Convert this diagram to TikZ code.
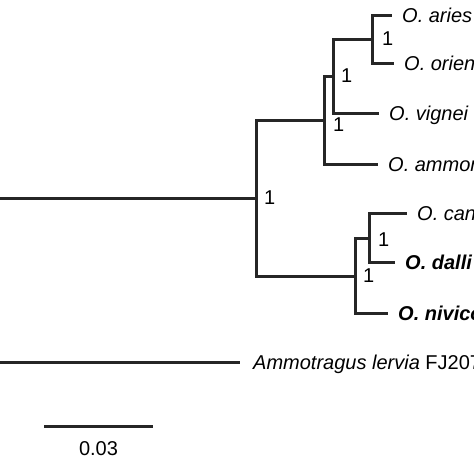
\documentclass[tikz,border=0pt]{standalone}
\usepackage{fontspec}
\setmainfont{Liberation Sans}
\usetikzlibrary{calc}
\tikzset{%
  branch/.style={line width=3pt,line join=miter,draw=black!85},
  taxon/.style={anchor=base west,inner sep=0pt,xshift=10pt,yshift=-7pt,
    font=\fontsize{20}{24}\selectfont\itshape},
  support/.style={anchor=west,inner sep=0pt,xshift=8pt,
    font=\fontsize{20}{24}\selectfont}
}
\begin{document}
\begin{tikzpicture}[x=1pt,y=-1pt]
    \useasboundingbox (0,0) rectangle (474,474);
    \clip (0,0) rectangle (474,474);
    % internal nodes
    \coordinate (top0) at (0,198);
    \coordinate (out0) at (0,362);
    \coordinate (ovis) at (256,198);
    \coordinate (upper) at (324,120);
    \coordinate (avo) at (333,76);
    \coordinate (ao) at (372,39);
    \coordinate (lower) at (355,276);
    \coordinate (cd) at (369,238);
    % tips
    \coordinate (aries) at (392,15);
    \coordinate (orientalis) at (394,63);
    \coordinate (vignei) at (379,113);
    \coordinate (ammon) at (378,164);
    \coordinate (canadensis) at (407,213);
    \coordinate (dalli) at (395,262);
    \coordinate (nivicola) at (388,313);
    \coordinate (ammotragus) at (240,362);
    %
    \draw[branch] (top0) -- (ovis);
    \draw[branch] (ovis) |- (upper);
    \draw[branch] (ovis) |- (lower);
    \draw[branch] (upper) |- (avo);
    \draw[branch] (upper) |- (ammon);
    \draw[branch] (avo) |- (ao);
    \draw[branch] (avo) |- (vignei);
    \draw[branch] (ao) |- (aries);
    \draw[branch] (ao) |- (orientalis);
    \draw[branch] (lower) |- (cd);
    \draw[branch] (lower) |- (nivicola);
    \draw[branch] (cd) |- (canadensis);
    \draw[branch] (cd) |- (dalli);
    \draw[branch] (out0) -- (ammotragus);
    %
    \node[taxon] (t-aries) at (aries) {O. aries};
    \node[taxon] (t-orientalis) at (orientalis) {O. orientalis};
    \node[taxon] (t-vignei) at (vignei) {O. vignei};
    \node[taxon] (t-ammon) at (ammon) {O. ammon};
    \node[taxon] (t-canadensis) at (canadensis) {O. canadensis};
    \node[taxon,font=\fontsize{20}{24}\selectfont\bfseries\itshape] (t-dalli)
      at (dalli) {O. dalli};
    \node[taxon,font=\fontsize{20}{24}\selectfont\bfseries\itshape] (t-nivicola)
      at (nivicola) {O. nivicola};
    \node[taxon,xshift=3pt] (t-ammotragus) at (ammotragus)
      {Ammotragus lervia \upshape FJ207539};
    %
    \node[support] (s-ovis) at (ovis) {1};
    \node[support,yshift=-5pt,xshift=1pt] (s-upper) at (upper) {1};
    \node[support] (s-avo) at (avo) {1};
    \node[support,xshift=2pt] (s-ao) at (ao) {1};
    \node[support] (s-lower) at (lower) {1};
    \node[support,yshift=-2pt,xshift=1pt] (s-cd) at (cd) {1};
    %
    \coordinate (sb1) at (44,426);
    \coordinate (sb2) at (153,426);
    \draw[branch] (sb1) -- (sb2)
      node[midway,anchor=north,inner sep=0pt,yshift=-14pt,
        font=\fontsize{20}{24}\selectfont] (sb-label) {0.03};
\end{tikzpicture}
\end{document}
